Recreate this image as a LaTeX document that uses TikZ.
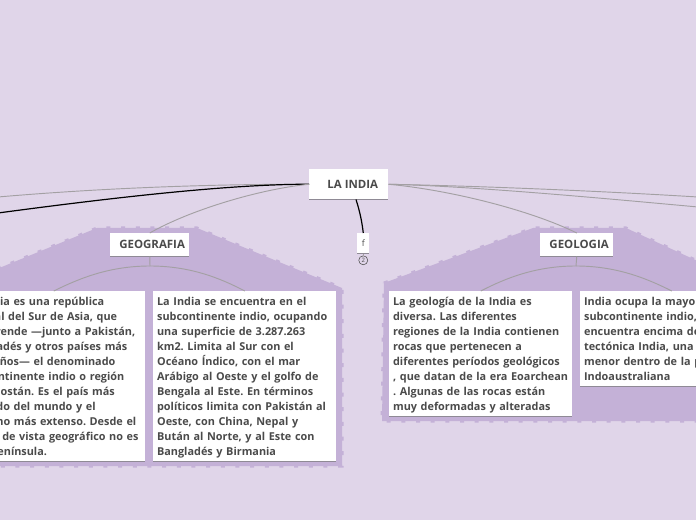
\documentclass[tikz,border=0pt]{standalone}
\usepackage{fontspec}
\setmainfont{Open Sans}
\usepackage{xcolor}
\usetikzlibrary{positioning, shadows}
\definecolor{pagebg}{HTML}{E0D5E9}
\definecolor{zonebg}{HTML}{C4B1D7}
\definecolor{inktxt}{HTML}{4A4A4A}
\definecolor{linkgray}{HTML}{A3A0A3}
\definecolor{shadegray}{HTML}{8F8A95}

\begin{document}
\frenchspacing
\begin{tikzpicture}[
        x=0.75pt, y=-0.75pt,
        zone/.style={fill=zonebg, draw=zonebg, line width=2.25pt, dash pattern=on 3pt off 8pt},
        boxshade/.style={drop shadow={shadow xshift=0pt, shadow yshift=-0.9pt, fill=shadegray, opacity=1}},
        topic/.style={rectangle, boxshade, fill=white, text=inktxt, font=\fontsize{8.6}{10}\selectfont\bfseries, inner sep=0pt, minimum height=17.25pt, anchor=north west},
        note/.style={rectangle, boxshade, anchor=north west, fill=white, text=inktxt, font=\fontsize{8.15}{11.25}\selectfont\bfseries, align=left, text width=131.5pt, inner xsep=2.875pt, inner ysep=0pt, execute at begin node={\rule{0pt}{11pt}}, execute at end node={\rule[-4pt]{0pt}{4pt}}},
        link/.style={draw=linkgray, line width=0.7pt},
        strong/.style={draw=black, line width=0.9pt}
    ]

    \path[use as bounding box, clip] (0,0) rectangle (696,520);
    \fill[pagebg] (0,0) rectangle (696,520);

    % Zones
    \path[zone] (-30,280) -- (97,228) -- (197,228) -- (342,288) -- (342,466) -- (-30,466) -- cycle;
    \path[zone] (384,283) -- (533,228) -- (626,228) -- (730,276) -- (730,421) -- (382,421) -- cycle;

    % Topics
    \node[topic, minimum width=59.25pt, minimum height=22.5pt] (india) at (309,169) {\hspace*{6pt}LA INDIA};
    \node[topic, minimum width=59.25pt] (geografia) at (110,233) {\hspace*{3.5pt}GEOGRAFIA};
    \node[topic, minimum width=54.75pt] (geologia) at (540,233) {\hspace*{3.5pt}GEOLOGIA};
    \node[rectangle, boxshade, fill=white, text=inktxt, font=\fontsize{6.5}{8}\selectfont, inner sep=0pt, minimum width=9pt, minimum height=15pt, anchor=north west] (relation) at (357,233) {f};
    \node[circle, draw=inktxt, line width=0.4pt, inner sep=0pt, minimum size=6.75pt, text=inktxt, font=\fontsize{4.5}{5}\selectfont, below=1.5pt of relation] (count) {2};

    % Notes
    \node[note] (geo1) at (-38,291) {La India es una república\\federal del Sur de Asia, que\\comprende —junto a Pakistán,\\Bangladés y otros países más\\pequeños— el denominado\\subcontinente indio o región\\de Indostán. Es el país más\\poblado del mundo y el\\séptimo más extenso. Desde el\\punto de vista geográfico no es\\una península.};
    \node[note] (geo2) at (153,291) {La India se encuentra en el\\subcontinente indio, ocupando\\una superficie de 3.287.263\\km2. Limita al Sur con el\\Océano Índico, con el mar\\Arábigo al Oeste y el golfo de\\Bengala al Este. En términos\\políticos limita con Pakistán al\\Oeste, con China, Nepal y\\Bután al Norte, y al Este con\\Bangladés y Birmania};
    \node[note] (geol1) at (389,291) {La geología de la India es\\diversa. Las diferentes\\regiones de la India contienen\\rocas que pertenecen a\\diferentes períodos geológicos\\, que datan de la era Eoarchean\\. Algunas de las rocas están\\muy deformadas y alteradas};
    \node[note] (geol2) at (580,291) {India ocupa la mayor parte del\\subcontinente indio, y se\\encuentra encima de la placa\\tectónica India, una placa\\menor dentro de la placa\\Indoaustraliana};

    % Free ends and joints
    \coordinate (offleft1) at (-2,197);
    \coordinate (offleft2) at (-2,213);
    \coordinate (offright1) at (698,197);
    \coordinate (offright2) at (698,207);
    \coordinate (geojoint) at (150,266);
    \coordinate (geoljoint) at (576,266);

    % Links
    \draw[link] (india.west) .. controls (200,184) and (90,189) .. (offleft1);
    \draw[strong] (india.west) .. controls (230,184) and (110,198) .. (offleft2);
    \draw[link] (india.west) .. controls (260,189) and (190,210) .. (geografia.north);
    \draw[link] (india.east) .. controls (480,186) and (600,191) .. (offright1);
    \draw[link] (india.east) .. controls (470,186) and (600,198) .. (offright2);
    \draw[link] (india.east) .. controls (450,190) and (530,210) .. (geologia.north);
    \draw[strong] (india.south -| 356,199) .. controls (360,212) and (362,222) .. (relation.north);
    \draw[link] (relation.south) -- (count.north);

    \draw[link] (geografia.south) -- (geojoint);
    \draw[link] (geojoint) .. controls (110,266) and (80,278) .. (geo1.north);
    \draw[link] (geojoint) .. controls (190,266) and (220,278) .. (geo2.north);
    \draw[link] (geologia.south) -- (geoljoint);
    \draw[link] (geoljoint) .. controls (536,266) and (506,278) .. (geol1.north);
    \draw[link] (geoljoint) .. controls (616,266) and (646,278) .. (geol2.north);

\end{tikzpicture}
\end{document}
